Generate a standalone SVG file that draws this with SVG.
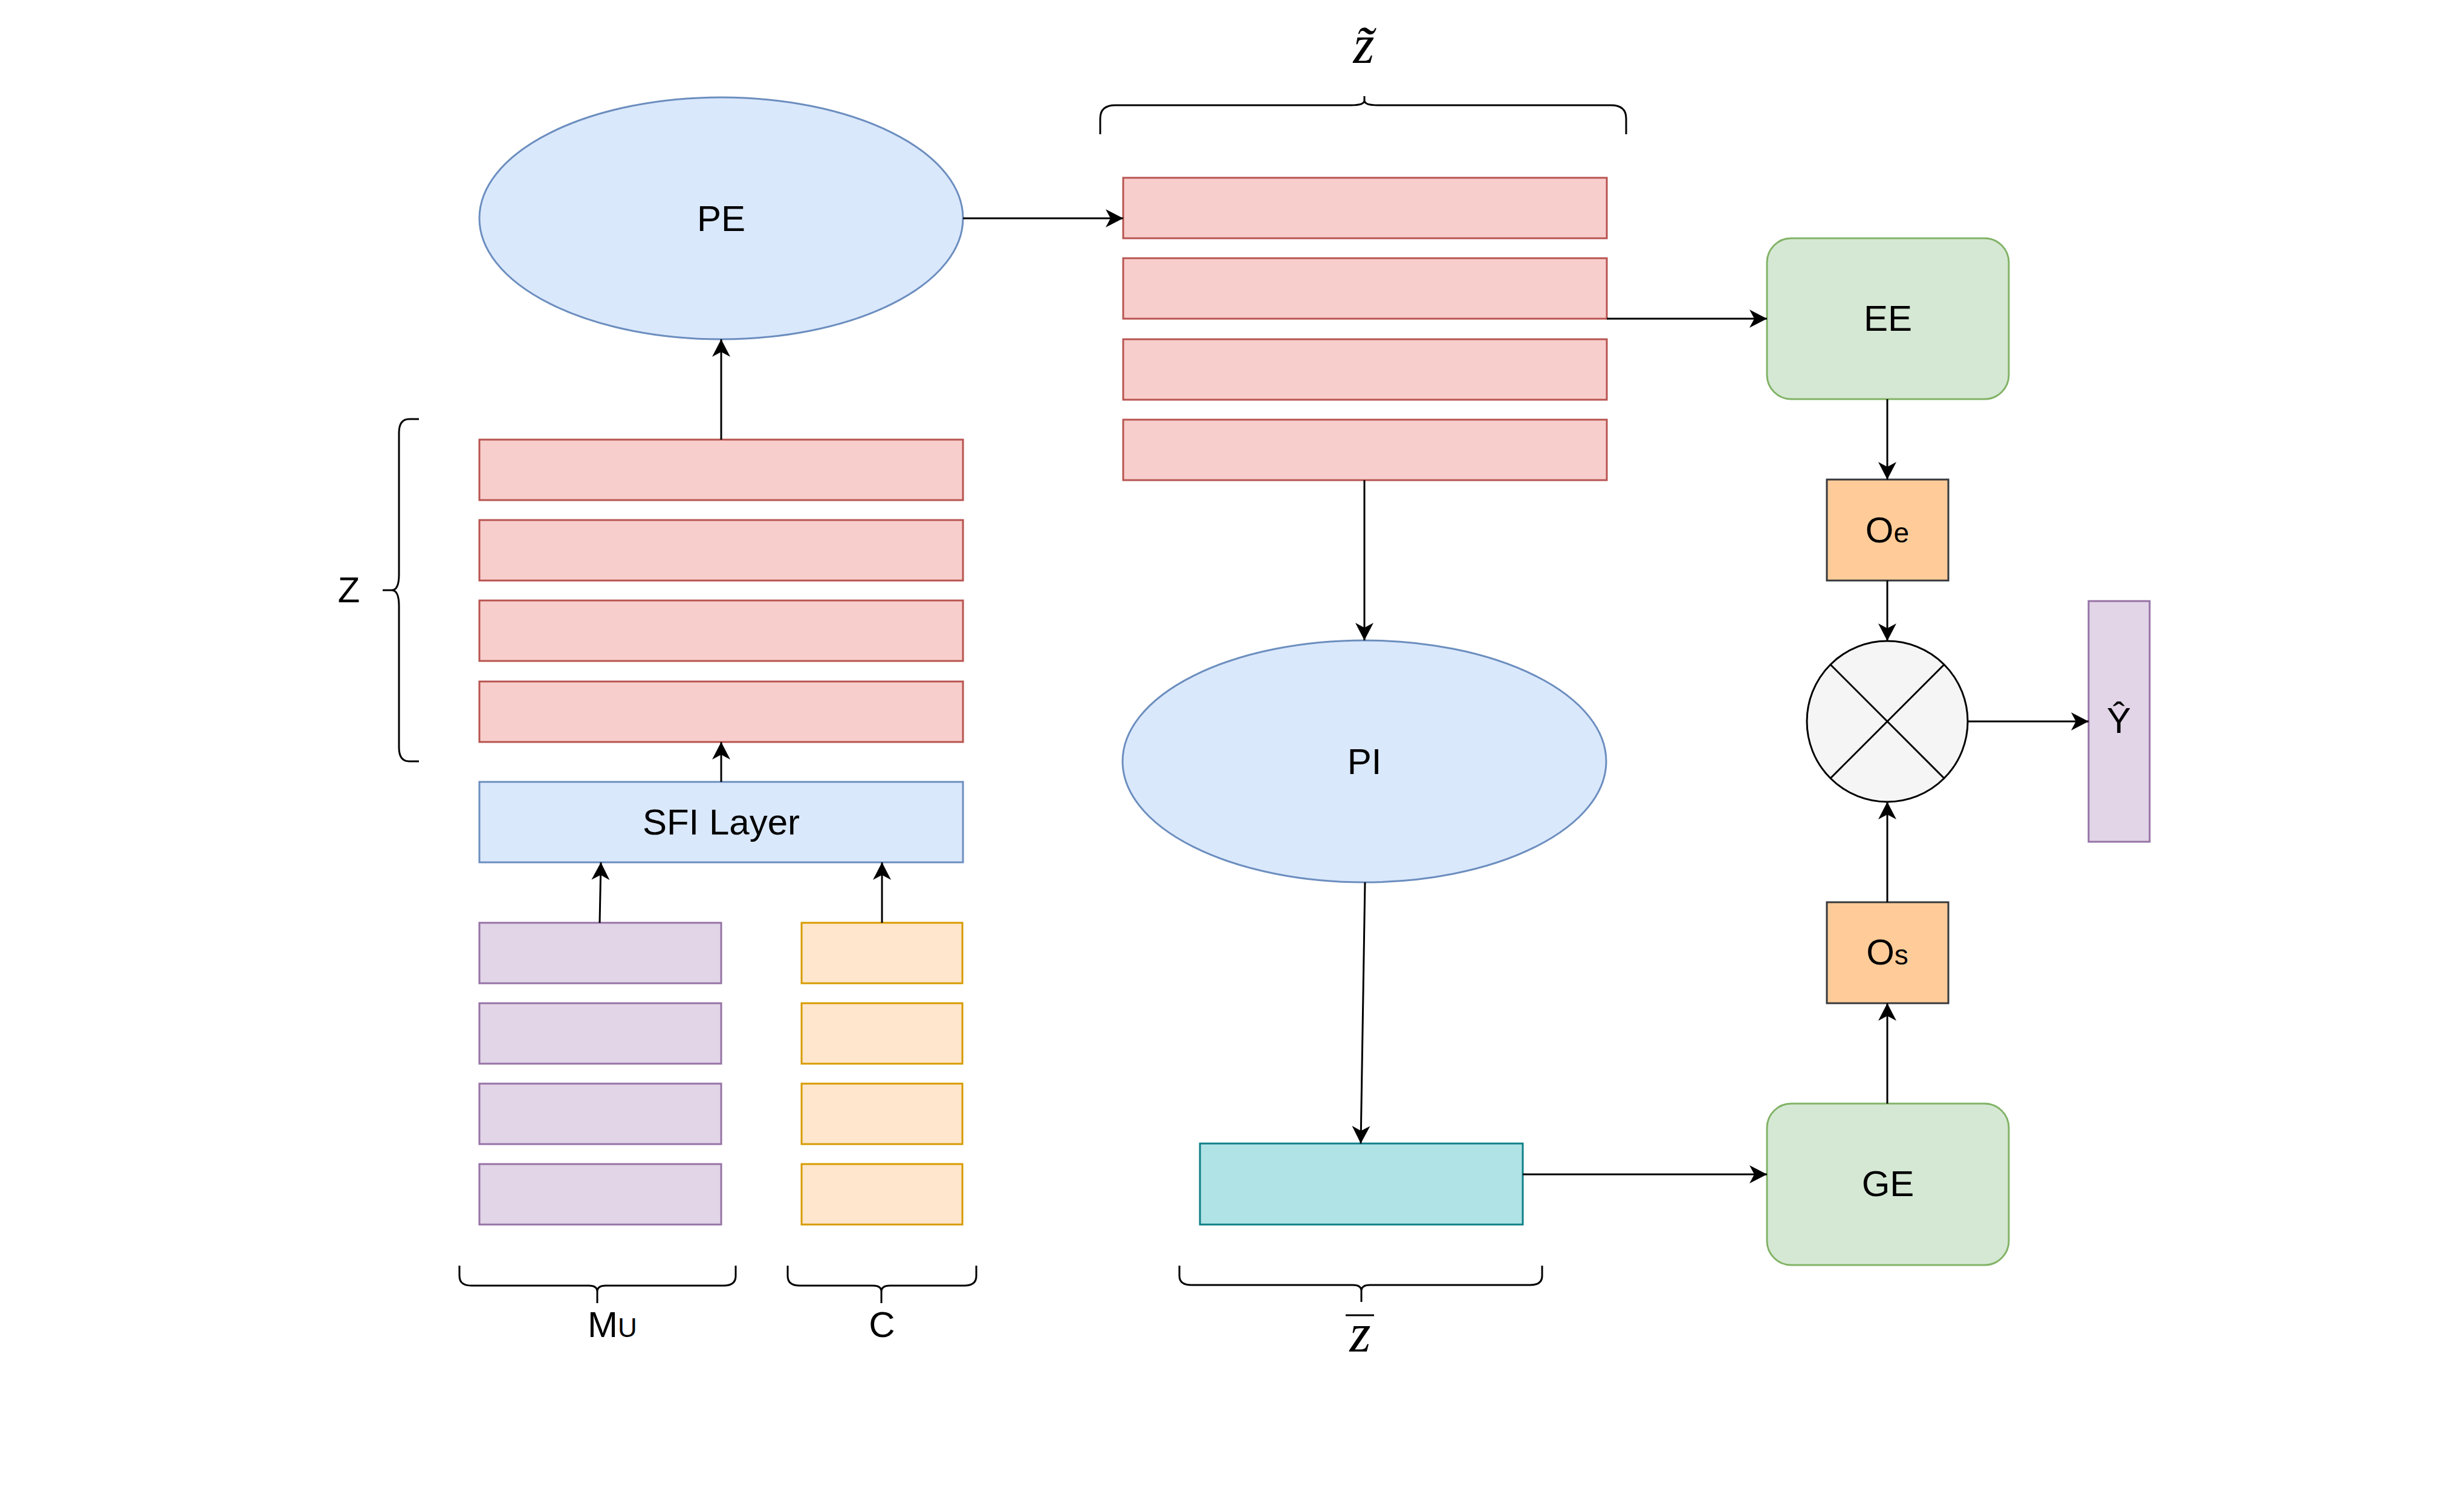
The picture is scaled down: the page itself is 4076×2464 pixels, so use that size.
<svg xmlns="http://www.w3.org/2000/svg" width="4076" height="2464" viewBox="0 0 4076 2464">
<defs>
<style>
.lbl{font-family:"Liberation Sans",Arial,Helvetica,sans-serif;font-size:60px;fill:#000;text-anchor:middle}
.math{font-family:"Liberation Serif","Times New Roman",serif;font-style:italic;font-size:90px;fill:#000;text-anchor:middle}
.red{fill:#f8cecc;stroke:#b85450;stroke-width:3}
.blue{fill:#dae8fc;stroke:#6c8ebf;stroke-width:3}
.green{fill:#d5e8d4;stroke:#82b366;stroke-width:3}
.purple{fill:#e1d5e7;stroke:#9673a6;stroke-width:3}
.orange{fill:#ffe6cc;stroke:#d79b00;stroke-width:3}
.dorange{fill:#ffcc99;stroke:#36393d;stroke-width:3}
.cyan{fill:#b0e3e6;stroke:#0e8088;stroke-width:3}
.brace{fill:none;stroke:#000;stroke-width:3}
.conn{fill:none;stroke:#000;stroke-width:3;marker-end:url(#arr)}
</style>
<marker id="arr" markerUnits="userSpaceOnUse" markerWidth="40" markerHeight="40" viewBox="-34 -20 40 40" refX="0" refY="0" orient="auto">
<path d="M0,0 L-29,-15 L-21,0 L-29,15 Z" fill="#000"/>
</marker>
</defs>
<rect width="4076" height="2464" fill="#fff"/>

<g id="PE"><ellipse class="blue" cx="1193" cy="361" rx="400" ry="200"/><text class="lbl" x="1193" y="382">PE</text></g>

<g id="Z-stack">
<rect class="red" x="793" y="727" width="800" height="100"/>
<rect class="red" x="793" y="860" width="800" height="100"/>
<rect class="red" x="793" y="993" width="800" height="100"/>
<rect class="red" x="793" y="1127" width="800" height="100"/>
</g>
<g id="Z-brace"><path class="brace" d="M693,693 H677 Q660,693 660,716 V950 Q660,976 648,976 H633 M648,976 Q660,976 660,1002 V1236 Q660,1259 677,1259 H693"/><text class="lbl" x="577" y="996">Z</text></g>

<g id="SFI"><rect class="blue" x="793" y="1293" width="800" height="133"/><text class="lbl" x="1193" y="1380">SFI Layer</text></g>

<g id="MU-stack">
<rect class="purple" x="793" y="1526" width="400" height="100"/>
<rect class="purple" x="793" y="1659" width="400" height="100"/>
<rect class="purple" x="793" y="1792" width="400" height="100"/>
<rect class="purple" x="793" y="1925" width="400" height="100"/>
</g>
<g id="C-stack">
<rect class="orange" x="1326" y="1526" width="266" height="100"/>
<rect class="orange" x="1326" y="1659" width="266" height="100"/>
<rect class="orange" x="1326" y="1792" width="266" height="100"/>
<rect class="orange" x="1326" y="1925" width="266" height="100"/>
</g>
<g id="MU-brace"><path class="brace" d="M760,2093 V2110 Q760,2126 780,2126 H974 Q988,2126 988,2136 V2155 M988,2136 Q988,2126 1002,2126 H1197 Q1217,2126 1217,2110 V2093"/><text class="lbl" x="972" y="2211" style="text-anchor:start">M<tspan font-size="44">U</tspan></text></g>
<g id="C-brace"><path class="brace" d="M1303,2093 V2110 Q1303,2126 1323,2126 H1444 Q1458,2126 1458,2136 V2155 M1458,2136 Q1458,2126 1472,2126 H1595 Q1615,2126 1615,2110 V2093"/><text class="lbl" x="1459" y="2211">C</text></g>

<g id="Ztilde-stack">
<rect class="red" x="1858" y="294" width="800" height="100"/>
<rect class="red" x="1858" y="427" width="800" height="100"/>
<rect class="red" x="1858" y="561" width="800" height="100"/>
<rect class="red" x="1858" y="694" width="800" height="100"/>
</g>
<g id="Ztilde-brace"><path class="brace" d="M1820,222 V196 Q1820,174 1845,174 H2235 Q2257,174 2257,166 V159 M2257,166 Q2257,174 2279,174 H2665 Q2690,174 2690,196 V222"/><text class="math" x="2256" y="104">z̃</text></g>

<g id="PI"><ellipse class="blue" cx="2257" cy="1259" rx="400" ry="200"/><text class="lbl" x="2257" y="1280">PI</text></g>

<g id="Zbar"><rect class="cyan" x="1985" y="1891" width="534" height="134"/></g>
<g id="Zbar-brace"><path class="brace" d="M1951,2093 V2110 Q1951,2125 1971,2125 H2238 Q2252,2125 2252,2135 V2153 M2252,2135 Q2252,2125 2266,2125 H2531 Q2551,2125 2551,2110 V2093"/><text class="math" x="2250" y="2235">z</text><line x1="2226" y1="2175" x2="2273" y2="2175" stroke="#000" stroke-width="3"/></g>

<g id="EE"><rect class="green" x="2923" y="394" width="400" height="266" rx="40" ry="40"/><text class="lbl" x="3123" y="547">EE</text></g>
<g id="Oe"><rect class="dorange" x="3022" y="793" width="201" height="167"/><text class="lbl" x="3122" y="897">O<tspan font-size="46">e</tspan></text></g>
<g id="mult"><circle cx="3122" cy="1193" r="133" fill="#f5f5f5" stroke="#000" stroke-width="3"/><path d="M3028,1099 L3216,1287 M3216,1099 L3028,1287" stroke="#000" stroke-width="3" fill="none"/></g>
<g id="Yhat"><rect class="purple" x="3455" y="994" width="101" height="398"/><text class="lbl" x="3505" y="1212">Ŷ</text></g>
<g id="Os"><rect class="dorange" x="3022" y="1492" width="201" height="167"/><text class="lbl" x="3122" y="1595">O<tspan font-size="46">s</tspan></text></g>
<g id="GE"><rect class="green" x="2923" y="1825" width="400" height="267" rx="40" ry="40"/><text class="lbl" x="3123" y="1978">GE</text></g>

<g id="connectors">
<line class="conn" x1="1193" y1="727" x2="1193" y2="561"/>
<line class="conn" x1="1193" y1="1293" x2="1193" y2="1227"/>
<line class="conn" x1="992" y1="1526" x2="994" y2="1426"/>
<line class="conn" x1="1459" y1="1526" x2="1459" y2="1426"/>
<line class="conn" x1="1593" y1="361" x2="1858" y2="361"/>
<line class="conn" x1="2658" y1="527" x2="2923" y2="527"/>
<line class="conn" x1="2257" y1="794" x2="2257" y2="1059"/>
<line class="conn" x1="2258" y1="1459" x2="2251" y2="1891"/>
<line class="conn" x1="2519" y1="1942" x2="2923" y2="1942"/>
<line class="conn" x1="3122" y1="660" x2="3122" y2="793"/>
<line class="conn" x1="3122" y1="960" x2="3122" y2="1060"/>
<line class="conn" x1="3255" y1="1193" x2="3455" y2="1193"/>
<line class="conn" x1="3122" y1="1492" x2="3122" y2="1326"/>
<line class="conn" x1="3122" y1="1825" x2="3122" y2="1659"/>
</g>
</svg>
